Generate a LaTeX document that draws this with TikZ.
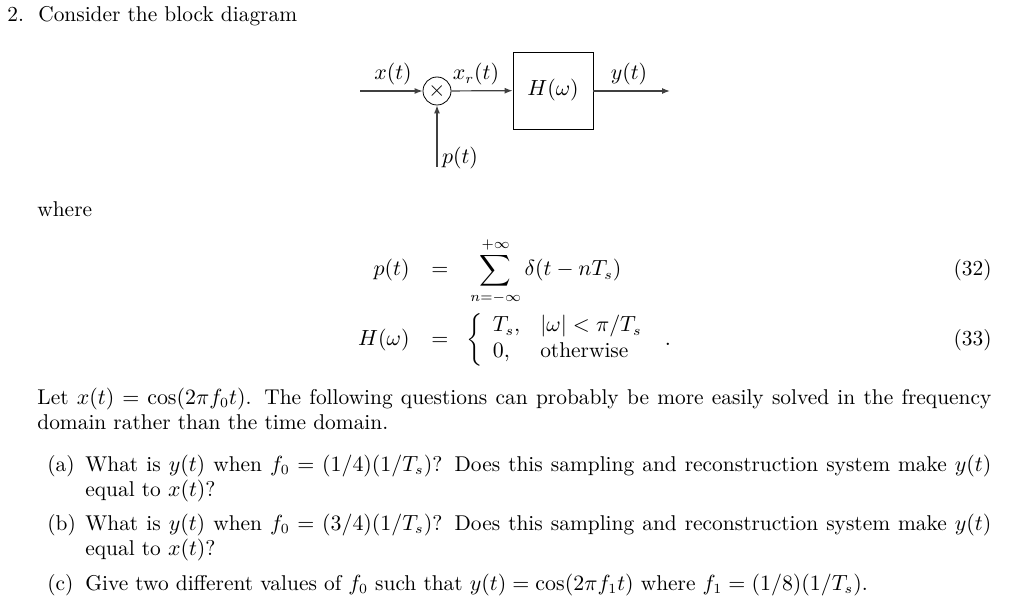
\documentclass[tikz,border=0pt]{standalone}
\usepackage{amsmath}
\usetikzlibrary{arrows.meta}
\begin{document}
\begin{tikzpicture}[x=0.5pt,y=-0.5pt,
  every node/.style={font=\fontsize{10.7}{13}\selectfont},
  txt/.style={anchor=base west,inner sep=0pt},
  sig/.style={draw=black!75,line width=0.6pt,-{Latex[length=4pt,width=3pt]}},
  lbl/.style={inner sep=0pt,anchor=base}]
\useasboundingbox (0,0) rectangle (1024,610);
\node[txt] (q) at (7,22) {2.\ \ Consider the block diagram};
% block diagram
\coordinate (in) at (360,91);
\node[draw,circle,minimum size=14pt,inner sep=0pt] (m) at (437,91) {$\times$};
\node[draw,minimum width=40pt,minimum height=38.5pt] (H) at (553,90.5) {$H(\omega)$};
\coordinate (out) at (670,91);
\coordinate (pin) at (437,167);
\draw[sig] (in) -- (m);
\draw[sig] (m) -- (H);
\draw[sig] (H.east|-out) -- (out);
\draw[sig] (pin) -- (m);
\node[lbl] (lx) at (393,80) {$x(t)$};
\node[lbl] (lxr) at (476,80) {$x_r(t)$};
\node[lbl] (ly) at (629,80) {$y(t)$};
\node[lbl] (lp) at (460,164) {$p(t)$};
\node[txt] (w) at (37,217) {where};
% equations
\node[anchor=base east,inner sep=0pt] (pl) at (410,276) {$p(t)$};
\node[lbl] (e1) at (440,276) {$=$};
\node[anchor=base west,inner sep=0pt] (pr) at (470,276) {$\displaystyle\sum_{n=-\infty}^{+\infty}\delta(t-nT_s)$};
\node[anchor=base east,inner sep=0pt] (n32) at (992,276) {(32)};
\node[anchor=base east,inner sep=0pt] (hl) at (410,345) {$H(\omega)$};
\node[lbl] (e2) at (440,345) {$=$};
\node[anchor=base west,inner sep=0pt] (hr) at (466,345) {$\left\{\begin{array}{ll} T_s, & |\omega|<\pi/T_s\\ 0, & \text{otherwise}\end{array}\right.\ .$};
\node[anchor=base east,inner sep=0pt] (n33) at (992,345) {(33)};
% text
\node[txt] (l1) at (37,404) {\makebox[477pt][s]{Let $x(t)=\cos(2\pi f_0 t)$. The following questions can probably be more easily solved in the frequency}};
\node[txt] (l2) at (37,429) {domain rather than the time domain.};
\node[txt] (a) at (47,471) {(a)};
\node[txt] (a1) at (85,471) {\makebox[453pt][s]{What is $y(t)$ when $f_0=(1/4)(1/T_s)$? Does this sampling and reconstruction system make $y(t)$}};
\node[txt] (a2) at (85,496) {equal to $x(t)$?};
\node[txt] (b) at (47,530) {(b)};
\node[txt] (b1) at (85,530) {\makebox[453pt][s]{What is $y(t)$ when $f_0=(3/4)(1/T_s)$? Does this sampling and reconstruction system make $y(t)$}};
\node[txt] (b2) at (85,555) {equal to $x(t)$?};
\node[txt] (c) at (47,590) {(c)};
\node[txt] (c1) at (85,590) {Give two different values of $f_0$ such that $y(t)=\cos(2\pi f_1 t)$ where $f_1=(1/8)(1/T_s)$.};
\end{tikzpicture}
\end{document}
